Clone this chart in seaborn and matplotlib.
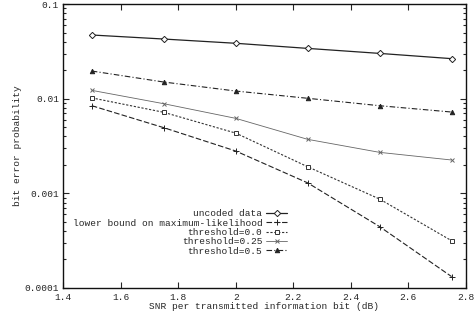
import pandas as pd
import matplotlib
matplotlib.use("Agg")
import matplotlib.pyplot as plt
import seaborn as sns
from matplotlib.ticker import LogLocator, NullFormatter, FixedLocator

# === Data ===
snr = [1.5, 1.75, 2.0, 2.25, 2.5, 2.75]
uncoded = [0.0471, 0.0427, 0.0385, 0.0340, 0.0301, 0.0265]
lower_bound = [0.00843, 0.00494, 0.00280, 0.00129, 0.000445, 0.000132]
thr_00 = [0.0102, 0.00718, 0.00433, 0.00191, 0.00087, 0.000316]
thr_025 = [0.01225, 0.00885, 0.0062, 0.00372, 0.00271, 0.00225]
thr_05 = [0.0196, 0.0150, 0.01205, 0.0101, 0.00843, 0.00723]

labels = ["uncoded data", "lower bound on maximum-likelihood",
          "threshold=0.0", "threshold=0.25", "threshold=0.5"]
series = [uncoded, lower_bound, thr_00, thr_025, thr_05]

rows = []
for lab, vals in zip(labels, series):
    for x, y in zip(snr, vals):
        rows.append({"snr": x, "ber": y, "series": lab})
df = pd.DataFrame(rows)

# === Style ===
sns.set_style("ticks")
plt.rcParams['font.family'] = ['Liberation Mono', 'DejaVu Sans Mono']
plt.rcParams['xtick.direction'] = 'in'
plt.rcParams['ytick.direction'] = 'in'
fs = 6.8

styles = {
    "uncoded data": dict(marker='D', ls='-', color='#222222', mfc='white', ms=3.2, lw=0.9),
    "lower bound on maximum-likelihood": dict(marker='+', ls=(0, (5, 2)), color='#222222', mfc='none', ms=4.5, lw=0.8),
    "threshold=0.0": dict(marker='s', ls=(0, (2, 1.5)), color='#333333', mfc='white', ms=3.2, lw=0.8),
    "threshold=0.25": dict(marker='x', ls='-', color='#666666', mfc='none', ms=3.5, lw=0.6),
    "threshold=0.5": dict(marker='^', ls=(0, (5, 2, 1, 2)), color='#222222', mfc='#222222', ms=3.2, lw=0.8),
}

fig = plt.figure(figsize=(4.74, 3.12), dpi=100)
ax = fig.add_axes([0.133, 0.077, 0.85, 0.91])

for lab in labels:
    st = styles[lab]
    sub = df[df["series"] == lab]
    sns.lineplot(x="snr", y="ber", data=sub, ax=ax, label=lab,
                 color=st['color'], marker=st['marker'], markersize=st['ms'],
                 markerfacecolor=st['mfc'], markeredgecolor=st['color'],
                 markeredgewidth=0.7, linewidth=st['lw'], linestyle=st['ls'])

ax.set_yscale('log')
ax.set_xlim(1.4, 2.8)
ax.set_ylim(0.0001, 0.1)
ax.xaxis.set_major_locator(FixedLocator([1.4, 1.6, 1.8, 2.0, 2.2, 2.4, 2.6, 2.8]))
ax.set_xticklabels(["1.4", "1.6", "1.8", "2", "2.2", "2.4", "2.6", "2.8"], fontsize=fs)
ax.yaxis.set_major_locator(FixedLocator([0.0001, 0.001, 0.01, 0.1]))
ax.set_yticklabels(["0.0001", "0.001", "0.01", "0.1"], fontsize=fs)
ax.yaxis.set_minor_locator(LogLocator(base=10, subs=range(2, 10)))
ax.yaxis.set_minor_formatter(NullFormatter())
ax.tick_params(which='both', top=True, right=True, direction='in', width=0.8)
ax.tick_params(axis='x', pad=3.5)
ax.tick_params(axis='y', pad=3)
ax.tick_params(which='major', length=4)
ax.tick_params(which='minor', length=2)
for sp in ax.spines.values():
    sp.set_linewidth(1.0)
    sp.set_color('#111111')

ax.set_xlabel("SNR per transmitted information bit (dB)", fontsize=fs, labelpad=0)
ax.set_ylabel("bit error probability", fontsize=fs, labelpad=2)

ax.legend(loc='upper right', bbox_to_anchor=(0.565, 0.29), frameon=False,
          markerfirst=False, fontsize=fs, handlelength=2.2, handletextpad=0.4,
          labelspacing=0.03, borderaxespad=0)

fig.savefig("out.png", dpi=100)
